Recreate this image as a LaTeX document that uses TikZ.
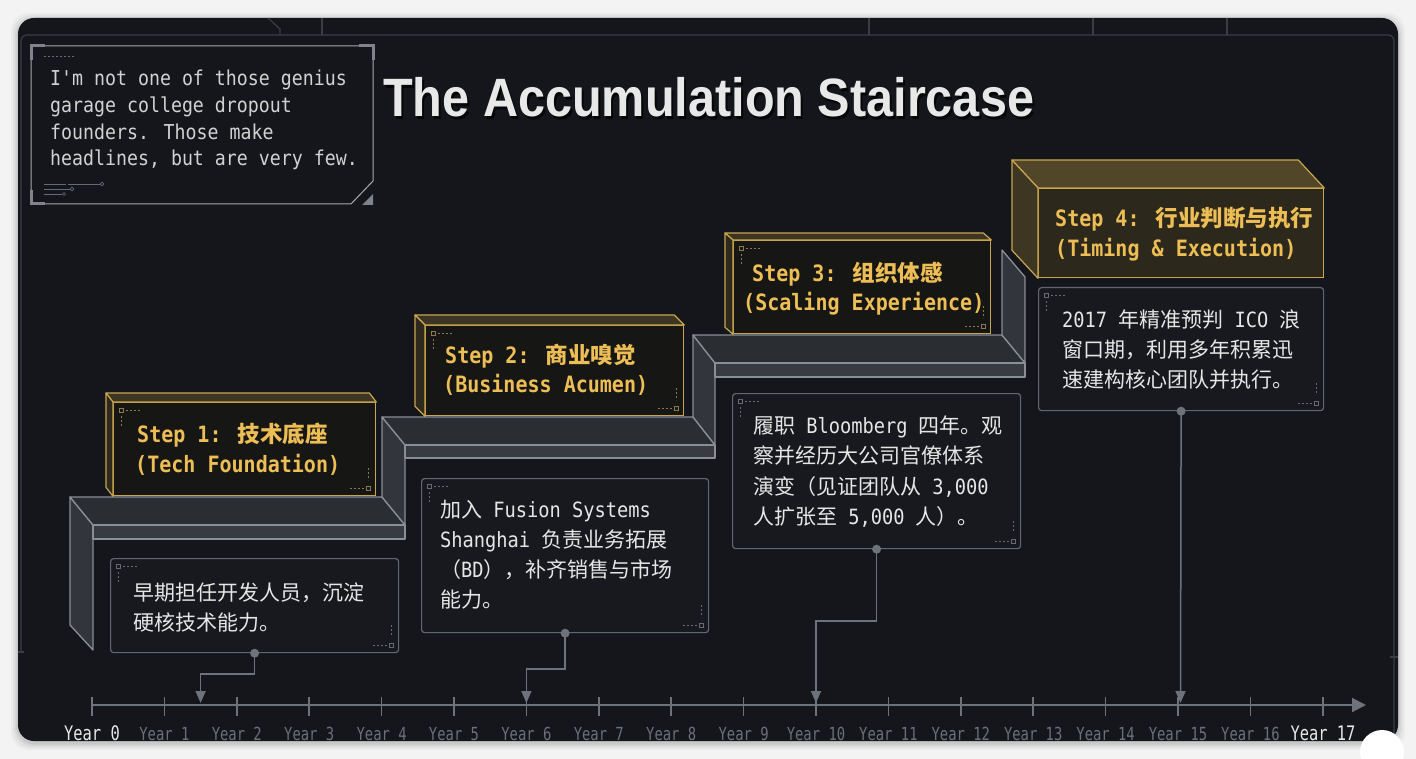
\documentclass[tikz,border=0pt]{standalone}
\usepackage{fontspec}
\setmainfont{DejaVu Sans}
\newfontfamily\mono[FakeStretch=0.89]{DejaVu Sans Mono}
\newfontfamily\monoc[FakeStretch=0.77]{DejaVu Sans Mono}
\newfontfamily\cjk{Noto Sans CJK SC}
\newfontfamily\ttl[FakeStretch=0.9]{Liberation Sans}
\usetikzlibrary{arrows.meta}
\newcommand\zh[1]{{\cjk #1}}
\newcommand\zhb[1]{{\cjk\bfseries #1}}
\definecolor{bgout}{HTML}{F3F3F3}
\definecolor{panel}{HTML}{14161B}
\definecolor{frame}{HTML}{3A3D44}
\definecolor{edge}{HTML}{8A8E95}
\definecolor{tread}{HTML}{2A2D32}
\definecolor{strip}{HTML}{383B41}
\definecolor{riser}{HTML}{32353B}
\definecolor{gold}{HTML}{C9A54E}
\definecolor{goldtxt}{HTML}{EDBE55}
\definecolor{goldfill}{HTML}{161614}
\definecolor{goldtop}{HTML}{3C3524}
\definecolor{goldside}{HTML}{2E291C}
\definecolor{gfront}{HTML}{2C281B}
\definecolor{gtop}{HTML}{524629}
\definecolor{gside}{HTML}{3D3622}
\definecolor{boxfill}{HTML}{17191E}
\definecolor{boxline}{HTML}{62666D}
\definecolor{txt}{HTML}{E6E6E6}
\definecolor{qtxt}{HTML}{D2D2D2}
\definecolor{axisc}{HTML}{6E727A}
\definecolor{lbl}{HTML}{6B7079}
\definecolor{deco}{HTML}{666A71}
\definecolor{gdeco}{HTML}{8A7A50}
\definecolor{brk}{HTML}{80848A}
\definecolor{titlec}{HTML}{E8E8E8}
\newcommand\cornerdeco[2]{%
  \draw[#2, line width=0.7pt] ([shift={(6,6)}]#1.north west) rectangle ++(4,4);
  \draw[#2, line width=0.7pt, dash pattern=on 2pt off 2pt] ([shift={(13,8)}]#1.north west) -- ++(14,0);
  \draw[#2, line width=0.7pt, dash pattern=on 2pt off 2pt] ([shift={(8,14)}]#1.north west) -- ++(0,10);
  \draw[#2, line width=0.7pt] ([shift={(-10,-10)}]#1.south east) rectangle ++(4,4);
  \draw[#2, line width=0.7pt, dash pattern=on 2pt off 2pt] ([shift={(-26,-8)}]#1.south east) -- ++(14,0);
  \draw[#2, line width=0.7pt, dash pattern=on 2pt off 2pt] ([shift={(-8,-28)}]#1.south east) -- ++(0,12);
}
\begin{document}
\begin{tikzpicture}[x=1pt,y=-1pt,
  stair/.style={draw=edge, line width=1.3pt, line join=round},
  goldfront/.style={anchor=north west, inner sep=0pt, draw=gold, line width=1.3pt, fill=goldfill},
  goldface/.style={draw=gold, line width=1.2pt, fill=goldtop, line join=round},
  goldsidef/.style={draw=gold, line width=1.2pt, fill=goldside, line join=round},
  descbox/.style={anchor=north west, inner sep=0pt, draw=boxline, fill=boxfill, line width=1.2pt, rounded corners=3pt},
  quotetxt/.style={anchor=base west, inner sep=0pt, text=qtxt, font=\mono\fontsize{20.5}{24}\selectfont},
  steptxt/.style={anchor=base west, inner sep=0pt, text=goldtxt, font=\mono\bfseries\fontsize{22.5}{26}\selectfont},
  desctxt/.style={anchor=base west, inner sep=0pt, text=txt, font=\mono\fontsize{21}{24}\selectfont},
  conn/.style={draw=axisc, line width=1.5pt, -{Triangle[width=10pt,length=12pt]}},
  yearlbl/.style={anchor=base, inner sep=0pt, text=lbl, font=\monoc\fontsize{18}{20}\selectfont},
  yearend/.style={anchor=base, inner sep=0pt, text=titlec, font=\monoc\fontsize{20}{22}\selectfont}
]
\useasboundingbox (0,0) rectangle (1416,759);
\fill[bgout] (0,0) rectangle (1416,759);
\foreach \s/\o in {7/0.03,5/0.04,3/0.05,1.5/0.06}
  \fill[black, opacity=\o, rounded corners=18pt] ({18-\s},{18-\s+2}) rectangle ({1398+\s},{741+\s+2});
\fill[panel, rounded corners=16pt] (18,18) rectangle (1398,741);
\begin{scope}
\clip[rounded corners=16pt] (18,18) rectangle (1398,741);
% frame
\draw[frame, line width=1.2pt, rounded corners=6pt] (21,652) -- (21,35) -- (1394,35) -- (1394,745);
\draw[frame, line width=1.2pt] (18,652) -- (24,652);
\draw[frame, line width=1.2pt] (1390,657) -- (1398,657);
\draw[frame, line width=1.2pt] (268,18) -- (280,29) -- (280,35);
\foreach \xx in {322,869,1093,1227} \draw[frame, line width=1.2pt] (\xx,18) -- (\xx,35);

% quote box
\draw[draw=brk!70, line width=1pt, fill=panel] (31,46) -- (373,46) -- (373,181) -- (351,204) -- (31,204) -- cycle;
\draw[brk, line width=3pt] (31,60) -- (31,46) -- (45,46);
\draw[brk, line width=3pt] (359,46) -- (373,46) -- (373,60);
\draw[brk, line width=3pt] (31,190) -- (31,204) -- (45,204);
\fill[brk] (373,194) -- (373,205) -- (362,205) -- cycle;
\draw[deco, line width=0.7pt, dash pattern=on 2pt off 2pt] (44,56) -- (75,56);
\draw[deco, line width=0.7pt] (44,184) -- (66,184) (44,189) -- (70,189) (44,194) -- (62,194);
\draw[deco, line width=0.7pt] (68,184) -- (100,184);
\draw[deco, line width=0.7pt] (102,184) circle (1.8);
\draw[deco, line width=0.7pt] (72,189) circle (1.8);
\draw[deco, line width=0.7pt] (64,194) circle (1.5);
\node[quotetxt] (q1) at (50,86) {I'm not one of those genius};
\node[quotetxt] (q2) at (50,113) {garage college dropout};
\node[quotetxt] (q3) at (50,140) {founders. Those make};
\node[quotetxt] (q4) at (50,166) {headlines, but are very few.};

% title
\node[anchor=base west, inner sep=0pt, text=black, opacity=0.7, font=\ttl\bfseries\fontsize{54}{54}\selectfont] (titleshadow) at (385,119.5) {The Accumulation Staircase};
\node[anchor=base west, inner sep=0pt, text=titlec, font=\ttl\bfseries\fontsize{54}{54}\selectfont] (title) at (383,117) {The Accumulation Staircase};

% staircase
\filldraw[stair, fill=riser] (70,497) -- (93,525) -- (93,650) -- (70,625) -- cycle;
\filldraw[stair, fill=tread] (70,497) -- (382,497) -- (405,525) -- (93,525) -- cycle;
\filldraw[stair, fill=strip] (93,525) rectangle (405,539);
\filldraw[stair, fill=riser] (382,417) -- (405,445) -- (405,525) -- (382,497) -- cycle;
\filldraw[stair, fill=tread] (382,417) -- (693,417) -- (715,445) -- (405,445) -- cycle;
\filldraw[stair, fill=strip] (405,445) rectangle (715,458);
\filldraw[stair, fill=riser] (693,335) -- (715,363) -- (715,445) -- (693,417) -- cycle;
\filldraw[stair, fill=tread] (693,335) -- (1002,335) -- (1025,363) -- (715,363) -- cycle;
\filldraw[stair, fill=strip] (715,363) rectangle (1025,377);
\filldraw[stair, fill=riser] (1002,250) -- (1025,277) -- (1025,363) -- (1002,335) -- cycle;

% gold step boxes
\node[goldfront, minimum width=262pt, minimum height=93pt] (g1) at (113,402) {};
\filldraw[goldface] (g1.north west) -- ++(-7,-9) -- ([shift={(-7,-9)}]g1.north east) -- (g1.north east) -- cycle;
\filldraw[goldsidef] (g1.north west) -- ++(-7,-9) -- ([shift={(-7,-9)}]g1.south west) -- (g1.south west) -- cycle;
\node[goldfront, minimum width=258pt, minimum height=90pt] (g2) at (425,325) {};
\filldraw[goldface] (g2.north west) -- ++(-10,-10) -- ([shift={(-10,-10)}]g2.north east) -- (g2.north east) -- cycle;
\filldraw[goldsidef] (g2.north west) -- ++(-10,-10) -- ([shift={(-10,-10)}]g2.south west) -- (g2.south west) -- cycle;
\node[goldfront, minimum width=257pt, minimum height=93pt] (g3) at (733,240) {};
\filldraw[goldface] (g3.north west) -- ++(-8,-7) -- ([shift={(-8,-7)}]g3.north east) -- (g3.north east) -- cycle;
\filldraw[goldsidef] (g3.north west) -- ++(-8,-7) -- ([shift={(-8,-7)}]g3.south west) -- (g3.south west) -- cycle;
\node[goldfront, fill=gfront, minimum width=285pt, minimum height=89pt] (g4) at (1038,188) {};
\filldraw[goldface, fill=gtop] (g4.north west) -- ++(-26,-28) -- ([shift={(-26,-28)}]g4.north east) -- (g4.north east) -- cycle;
\filldraw[goldsidef, fill=gside] (g4.north west) -- ++(-26,-28) -- ([shift={(-26,-28)}]g4.south west) -- (g4.south west) -- cycle;
\cornerdeco{g1}{gdeco}
\cornerdeco{g2}{gdeco}
\cornerdeco{g3}{gdeco}

\node[steptxt] (s1a) at (137,442) {Step 1: \zhb{技术底座}};
\node[steptxt] (s1b) at (135,472) {(Tech Foundation)};
\node[steptxt] (s2a) at (445,363) {Step 2: \zhb{商业嗅觉}};
\node[steptxt] (s2b) at (443,392) {(Business Acumen)};
\node[steptxt] (s3a) at (752,282) {Step 3: \zhb{组织体感}};
\node[steptxt] (s3b) at (743,311) {(Scaling Experience)};
\node[steptxt] (s4a) at (1055,227) {Step 4: \zhb{行业判断与执行}};
\node[steptxt] (s4b) at (1055,257) {(Timing \& Execution)};

% description boxes
\node[descbox, minimum width=288pt, minimum height=94pt] (d1) at (110,558) {};
\node[descbox, minimum width=287pt, minimum height=154pt] (d2) at (421,478) {};
\node[descbox, minimum width=288pt, minimum height=155pt] (d3) at (732,393) {};
\node[descbox, minimum width=285pt, minimum height=123pt] (d4) at (1038,287) {};
\cornerdeco{d1}{deco}
\cornerdeco{d2}{deco}
\cornerdeco{d3}{deco}
\cornerdeco{d4}{deco}

\node[desctxt] (t1a) at (133,600) {\zh{早期担任开发人员，沉淀}};
\node[desctxt] (t1b) at (133,630) {\zh{硬核技术能力。}};
\node[desctxt] (t2a) at (440,517) {\zh{加入} Fusion Systems};
\node[desctxt] (t2b) at (440,547) {Shanghai \zh{负责业务拓展}};
\node[desctxt] (t2c) at (440,577) {\zh{（}BD\zh{），补齐销售与市场}};
\node[desctxt] (t2d) at (440,607) {\zh{能力。}};
\node[desctxt] (t3a) at (753,433) {\zh{履职} Bloomberg \zh{四年。观}};
\node[desctxt] (t3b) at (753,463) {\zh{察并经历大公司官僚体系}};
\node[desctxt] (t3c) at (753,494) {\zh{演变（见证团队从} 3,000};
\node[desctxt] (t3d) at (753,524) {\zh{人扩张至} 5,000 \zh{人）。}};
\node[desctxt] (t4a) at (1062,327) {2017 \zh{年精准预判} ICO \zh{浪}};
\node[desctxt] (t4b) at (1062,357) {\zh{窗口期，利用多年积累迅}};
\node[desctxt] (t4c) at (1062,387) {\zh{速建构核心团队并执行。}};

% timeline
\coordinate (ax0) at (92,705);
\coordinate (axend) at (1366,705);
\draw[axisc, line width=2pt, -{Triangle[width=14pt,length=14pt]}] (ax0) -- (axend);
\foreach \k in {0,...,17} \draw[axisc, line width=1.5pt] ({92+72.4*\k},697) -- ({92+72.4*\k},716);
\foreach \k in {1,...,16} \node[yearlbl] (yl\k) at ({92+72.4*\k},740) {Year \k};
\node[yearend] (yl0) at (92,740) {Year 0};
\node[yearend] (yl17) at (1323,740) {Year 17};

% connectors
\coordinate (a1) at (200.6,703);
\coordinate (a2) at (526.4,703);
\coordinate (a3) at (816,703);
\coordinate (a4) at (1180.5,703);
\draw[conn] (d1.south) -- ++(0,21) -| (a1);
\draw[conn] (d2.south) -- ++(0,36) -| (a2);
\draw[conn] (d3.south) -- ++(0,72) -| (a3);
\draw[conn] (d4.south) -- (a4);
\foreach \d in {d1,d2,d3,d4} \fill[axisc] (\d.south) circle (4.5);
\end{scope}
\fill[white] (1382,752) circle (22);
\end{tikzpicture}
\end{document}
